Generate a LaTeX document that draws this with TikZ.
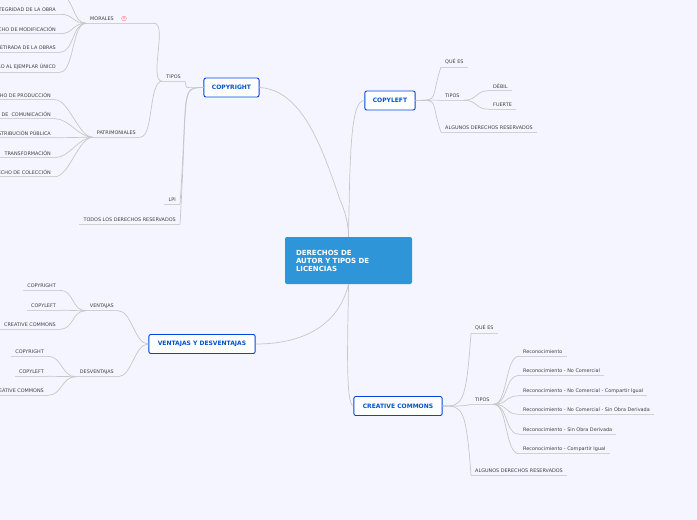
\documentclass[tikz,border=0pt]{standalone}
\usepackage{fontspec}
\setmainfont{DejaVu Sans}
\begin{document}
\begin{tikzpicture}[x=1pt,y=-1pt,
 leaf/.style={font=\fontsize{4.9}{5}\selectfont,text=black!75,inner xsep=4pt,inner ysep=2.2pt},
 uline/.style={draw=black!18,line width=0.6pt},
 conn/.style={draw=black!22,line width=0.7pt},
 topic/.style={draw=blue!70!cyan!90!black,line width=0.9pt,fill=white,rounded corners=2pt,font=\bfseries\fontsize{6}{7}\selectfont,text=blue!60!cyan!80!black,minimum height=19pt,inner xsep=8pt}]
\fill[blue!4!white] (0,0) rectangle (697,520);
\clip (0,0) rectangle (697,520);
\newcommand\mylf[3]{\node[leaf,anchor=east] (#1) at (#2) {#3};\draw[uline] (#1.south west)--(#1.south east);}
\newcommand\myrt[3]{\node[leaf,anchor=west] (#1) at (#2) {#3};\draw[uline] (#1.south west)--(#1.south east);}
\newcommand\cnl[2]{\draw[conn] (#1) .. controls +(-14,0) and +(14,0) .. (#2);}
\newcommand\cnr[2]{\draw[conn] (#1) .. controls +(14,0) and +(-14,0) .. (#2);}
% central
\node[fill=cyan!45!blue!75!white,fill=cyan!70!blue!85,rounded corners=2pt,text=white,font=\bfseries\fontsize{7}{8}\selectfont,align=left,minimum width=127pt,minimum height=47pt,text width=105pt] (c) at (348.5,260.5) {DERECHOS DE\\AUTOR Y TIPOS DE\\LICENCIAS};
\node[topic] (cp) at (231.5,87.5) {COPYRIGHT};
\node[topic] (cl) at (390,100.5) {COPYLEFT};
\node[topic,inner xsep=9pt] (vd) at (202,344) {VENTAJAS Y DESVENTAJAS};
\node[topic,inner xsep=9pt] (cc) at (398,406) {CREATIVE COMMONS};
\draw[conn] (c.north) .. controls +(0,-20) and +(0,0) .. (340,200) .. controls (320,140) and (300,90) .. (cp.east);
\draw[conn] (c.north) .. controls (350,160) and (350,100) .. (cl.west);
\draw[conn] (c.south) .. controls (348,330) and (345,406) .. (cc.west);
\draw[conn] (c.south) .. controls (340,320) and (310,344) .. (vd.east);
% copyright
\mylf{tipos}{185,77}{TIPOS}
\mylf{lpi}{180,200}{LPI}
\mylf{todos}{180,220}{TODOS LOS DERECHOS RESERVADOS}
\foreach \n in {tipos,lpi,todos}{\draw[conn] (cp.west) .. controls (180,88) and (188,88) .. (\n.south east);}
\node[leaf,anchor=east] (mor) at (118,19) {MORALES};
\draw[uline] (mor.south west) -- ++(68,0) coordinate (morE);
\node[circle,draw=red!45,line width=0.4pt,inner sep=0.6pt,font=\fontsize{3}{3}\selectfont,text=red!60] (ico) at (124,18.5) {N};
\mylf{pat}{140,133}{PATRIMONIALES}
\cnl{tipos.south west}{morE}
\cnl{tipos.south west}{pat.south east}
\mylf{m0}{60,-9}{PATERNIDAD}
\mylf{m1}{60,10}{INTEGRIDAD DE LA OBRA}
\mylf{m2}{60,29}{DERECHO DE MODIFICACIÓN}
\mylf{m3}{60,48}{RETIRADA DE LA OBRAS}
\mylf{m4}{60,67}{ACCESO AL EJEMPLAR ÚNICO}
\foreach \n in {m0,m1,m2,m3,m4}{\cnl{mor.south west}{\n.south east}}
\mylf{p1}{55,95}{DERECHO DE PRODUCCIÓN}
\mylf{p2}{55,114}{DERECHO DE\ \ COMUNICACIÓN}
\mylf{p3}{55,133}{DISTRIBUCIÓN PÚBLICA}
\mylf{p4}{55,153}{TRANSFORMACIÓN}
\mylf{p5}{55,172}{DERECHO DE COLECCIÓN}
\foreach \n in {p1,p2,p3,p4,p5}{\cnl{pat.south west}{\n.south east}}
% copyleft
\myrt{q}{441,62}{QUÉ ES}
\myrt{t}{441,96}{TIPOS}
\myrt{a}{441,128}{ALGUNOS DERECHOS RESERVADOS}
\foreach \n in {q,t,a}{\draw[conn] (cl.east) .. controls (440,100) and (430,100) .. (\n.south west);}
\myrt{d}{489,86}{DÉBIL}
\myrt{f}{489,105}{FUERTE}
\cnr{t.south east}{d.south west}\cnr{t.south east}{f.south west}
% ventajas
\mylf{v}{118,306}{VENTAJAS}
\mylf{dv}{118,372}{DESVENTAJAS}
\cnl{vd.west}{v.south east}\cnl{vd.west}{dv.south east}
\mylf{v1}{60,286}{COPYRIGHT}
\mylf{v2}{60,306}{COPYLEFT}
\mylf{v3}{60,325}{CREATIVE COMMONS}
\foreach \n in {v1,v2,v3}{\cnl{v.south west}{\n.south east}}
\mylf{d1}{48,352}{COPYRIGHT}
\mylf{d2}{48,372}{COPYLEFT}
\mylf{d3}{48,391}{CREATIVE COMMONS}
\foreach \n in {d1,d2,d3}{\cnl{dv.south west}{\n.south east}}
% creative commons
\myrt{cq}{471,328}{QUÉ ES}
\myrt{ct}{471,400}{TIPOS}
\myrt{ca}{471,471}{ALGUNOS DERECHOS RESERVADOS}
\foreach \n in {cq,ct,ca}{\draw[conn] (cc.east) .. controls (462,406) and (466,406) .. (\n.south west);}
\myrt{r1}{519,352}{Reconocimiento}
\myrt{r2}{519,371}{Reconocimiento - No Comercial}
\myrt{r3}{519,391}{Reconocimiento - No Comercial - Compartir Igual}
\myrt{r4}{519,410}{Reconocimiento - No Comercial - Sin Obra Derivada}
\myrt{r5}{519,430}{Reconocimiento - Sin Obra Derivada}
\myrt{r6}{519,449}{Reconocimiento - Compartir Igual}
\foreach \n in {r1,r2,r3,r4,r5,r6}{\cnr{ct.south east}{\n.south west}}
\end{tikzpicture}
\end{document}
